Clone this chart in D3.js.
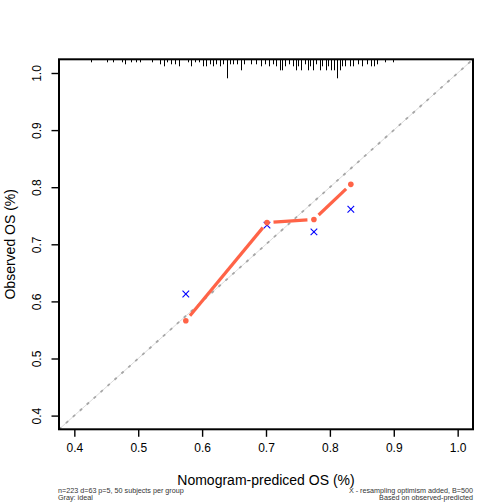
<!DOCTYPE html>
<html>
<head>
<meta charset="utf-8">
<script src="https://cdn.jsdelivr.net/npm/d3@7"></script>
<style>
  html, body { margin: 0; padding: 0; background: #fff; }
  svg { display: block; font-family: "Liberation Sans", Arial, sans-serif; }
</style>
</head>
<body>
<svg id="chart" width="504" height="504"></svg>
<script>
// ---- data ----
const tickValues = [0.4, 0.5, 0.6, 0.7, 0.8, 0.9, 1.0];
// apparent calibration (orange)
const predMean   = [0.5745, 0.7016, 0.775, 0.8328];
const observedOS = [0.566, 0.738, 0.7435, 0.805];
// bias-corrected (blue X)
const correctedOS = [0.613, 0.7335, 0.7218, 0.7614];
// distribution of predicted values (rug at top)
const rugX = [0.4256,0.4506,0.4610,0.4740,0.4792,0.4886,0.4964,0.5027,0.5209,0.5339,0.5402,0.5443,0.5511,0.5573,0.5636,
  0.5782,0.5823,0.5881,0.5954,0.6016,0.6068,0.6131,0.6172,0.6225,0.6277,0.6329,0.6391,0.6433,0.6485,0.6542,0.6615,0.6657,
  0.6771,0.6850,0.6917,0.6980,0.7047,0.7110,0.7162,0.7214,0.7256,0.7292,0.7355,0.7422,0.7464,0.7506,0.7553,0.7605,0.7657,
  0.7693,0.7735,0.7787,0.7839,0.7881,0.7933,0.7974,0.8021,0.8058,0.8110,0.8152,0.8193,0.8235,0.8308,0.8360,0.8438,0.8506,
  0.8579,0.8646,0.8698,0.8740,0.8855,0.8985];
const rugN = [1,1,1,1,2,1,1,1,1,2,3,1,2,2,3,
  1,3,1,1,3,3,2,3,2,3,2,9,2,2,2,5,2,
  2,2,3,2,3,2,3,5,5,3,2,3,5,3,5,2,5,
  3,5,2,5,3,5,3,5,5,9,5,3,3,3,3,2,3,
  2,3,3,2,1,1];
const xLabel = "Nomogram-prediced OS (%)";
const yLabel = "Observed OS (%)";
const noteLeft = ["n=223 d=63 p=5, 50 subjects per group", "Gray: ideal"];
const noteRight = ["X - resampling optimism added, B=500", "Based on observed-predicted"];

// ---- layout ----
const svg = d3.select("#chart");
const L = 59, R = 473, T = 59.3, B = 429.3;
const ext = 0.024;
const x = d3.scaleLinear().domain([0.4 - ext, 1.0 + ext]).range([L, R]);
const y = d3.scaleLinear().domain([0.4 - ext, 1.0 + ext]).range([B, T]);

svg.append("rect").attr("width", 504).attr("height", 504).attr("fill", "#fff");

svg.append("clipPath").attr("id", "clip").append("rect")
  .attr("x", L).attr("y", T).attr("width", R - L).attr("height", B - T);

const plot = svg.append("g").attr("clip-path", "url(#clip)");

// ideal line
const dom = x.domain();
plot.append("line")
  .attr("x1", x(dom[0])).attr("y1", y(dom[0]))
  .attr("x2", x(dom[1])).attr("y2", y(dom[1]))
  .attr("stroke", "#dcdcdc").attr("stroke-width", 1);
plot.append("line")
  .attr("x1", x(dom[0])).attr("y1", y(dom[0]))
  .attr("x2", x(dom[1])).attr("y2", y(dom[1]))
  .attr("stroke", "#a6a6a6").attr("stroke-width", 1.8)
  .attr("stroke-dasharray", "3,6.3");

// rug at top
plot.selectAll("line.rug").data(rugX).enter().append("line")
  .attr("class", "rug")
  .attr("x1", d => Math.round(x(d)) + 0.5).attr("x2", d => Math.round(x(d)) + 0.5)
  .attr("y1", T).attr("y2", (d, i) => T + 1 + rugN[i] * 2.0)
  .attr("stroke", "#000").attr("stroke-width", 1);

// blue X
const xs = 3.3;
const xg = plot.selectAll("g.cx").data(predMean).enter().append("g")
  .attr("transform", (d, i) => `translate(${x(d)},${y(correctedOS[i])})`);
xg.append("line").attr("x1", -xs).attr("y1", -xs).attr("x2", xs).attr("y2", xs)
  .attr("stroke", "#0000ff").attr("stroke-width", 1.1);
xg.append("line").attr("x1", -xs).attr("y1", xs).attr("x2", xs).attr("y2", -xs)
  .attr("stroke", "#0000ff").attr("stroke-width", 1.1);

// orange line with gaps (type "b")
const col = "#ff6347";
const gap = 6.5;
for (let i = 0; i < predMean.length - 1; i++) {
  const x0 = x(predMean[i]), y0 = y(observedOS[i]);
  const x1 = x(predMean[i + 1]), y1 = y(observedOS[i + 1]);
  const len = Math.hypot(x1 - x0, y1 - y0);
  const ux = (x1 - x0) / len, uy = (y1 - y0) / len;
  plot.append("line")
    .attr("x1", x0 + ux * gap).attr("y1", y0 + uy * gap)
    .attr("x2", x1 - ux * gap).attr("y2", y1 - uy * gap)
    .attr("stroke", col).attr("stroke-width", 3.2);
}
plot.selectAll("circle.pt").data(predMean).enter().append("circle")
  .attr("cx", d => x(d)).attr("cy", (d, i) => y(observedOS[i]))
  .attr("r", 2.8).attr("fill", col);

// axes
const xAxis = svg.append("g").attr("transform", `translate(0,${B})`)
  .call(d3.axisBottom(x).tickValues(tickValues).tickFormat(d3.format(".1f"))
    .tickSize(7.5).tickSizeOuter(0).tickPadding(7));
xAxis.select(".domain").remove();
xAxis.selectAll("line").attr("stroke", "#000").attr("stroke-width", 1.4);
xAxis.selectAll("text").attr("font-size", 12).attr("fill", "#000")
  .attr("font-family", "Liberation Sans, Arial, sans-serif");

const yAxis = svg.append("g").attr("transform", `translate(${L},0)`)
  .call(d3.axisLeft(y).tickValues(tickValues).tickFormat(d3.format(".1f"))
    .tickSize(7.5).tickSizeOuter(0));
yAxis.select(".domain").remove();
yAxis.selectAll("line").attr("stroke", "#000").attr("stroke-width", 1.4);
yAxis.selectAll("text")
  .attr("x", 0).attr("dy", "0.35em")
  .attr("text-anchor", "middle")
  .attr("transform", "translate(-22,0) rotate(-90)")
  .attr("font-size", 12).attr("fill", "#000")
  .attr("font-family", "Liberation Sans, Arial, sans-serif");

// box
svg.append("rect").attr("x", L).attr("y", T).attr("width", R - L).attr("height", B - T)
  .attr("fill", "none").attr("stroke", "#000").attr("stroke-width", 2);

// titles
svg.append("text").attr("x", (L + R) / 2).attr("y", 485)
  .attr("text-anchor", "middle").attr("font-size", 14).attr("fill", "#000")
  .text(xLabel);
svg.append("text")
  .attr("transform", `translate(10,${(T + B) / 2}) rotate(-90)`)
  .attr("dy", "0.35em")
  .attr("text-anchor", "middle").attr("font-size", 14).attr("fill", "#000")
  .text(yLabel);

// notes
noteLeft.forEach((t, i) => {
  svg.append("text").attr("x", L - 1).attr("y", 492.5 + i * 7.8)
    .attr("font-size", 7.2).attr("fill", "#333").text(t);
});
noteRight.forEach((t, i) => {
  svg.append("text").attr("x", R).attr("y", 492.5 + i * 7.8)
    .attr("text-anchor", "end")
    .attr("font-size", 7.2).attr("fill", "#333").text(t);
});
</script>
</body>
</html>
